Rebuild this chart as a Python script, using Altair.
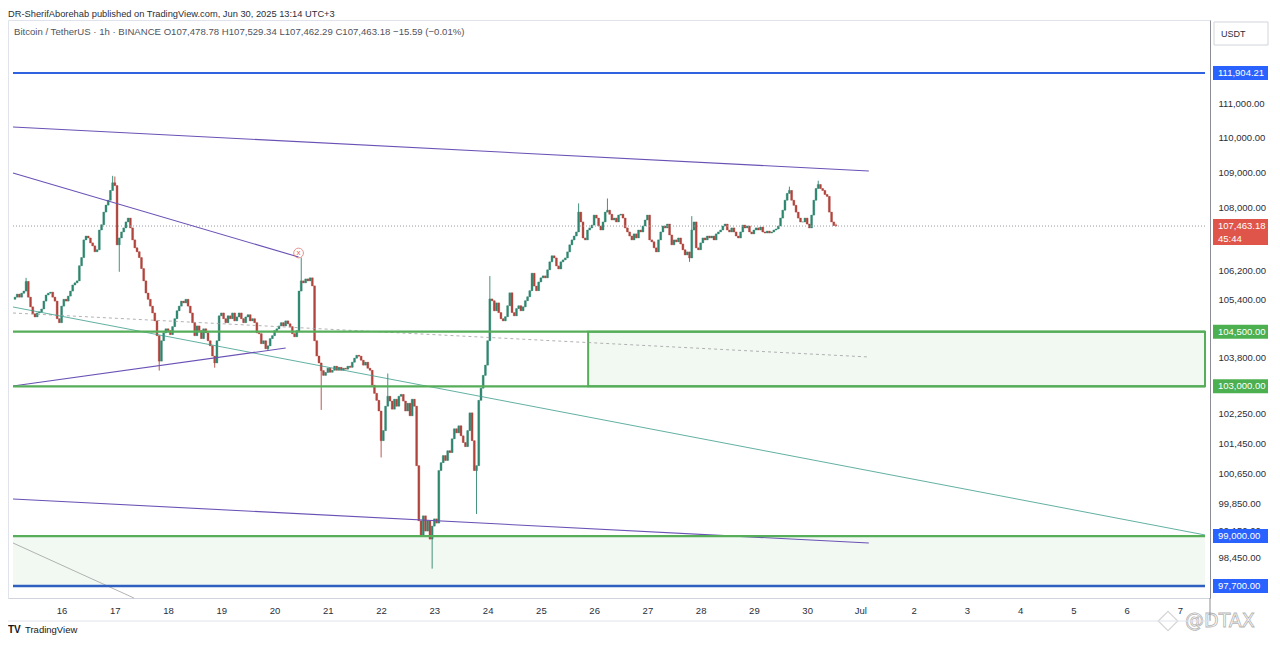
import altair as alt
import pandas as pd

# ---------------- data ----------------
# t = hours since 2025-06-15 00:00 ; one candle per hour (1h chart)
FIRST_T = 3
FIRST_OPEN = 105400

closes_jun15 = [105460, 105545, 105460, 105570, 105630, 105900, 105460, 105190, 104995, 104910, 105020,
                105050, 105130, 105350, 105520, 105570, 105600, 105460, 105350, 104860, 104750]
closes_jun16 = [105210, 105400, 105350, 105490, 105630, 105800, 105860, 105915, 106340, 106570, 107070, 107180,
                107125, 106985, 106900, 106735, 106790, 107350, 107500, 107860, 108060, 108200, 108480, 108700]
closes_jun17 = [108620, 106930, 107125, 107295, 107410, 107580, 107690, 107410, 107070, 106845, 106735, 106570,
                106260, 105915, 105575, 105400, 105210, 105020, 104800, 104390, 103690, 104250, 104470, 104580]
closes_jun18 = [104530, 104420, 104640, 104860, 105080, 105210, 105350, 105300, 105400, 105210, 105020, 104750,
                104390, 104660, 104530, 104310, 104580, 104470, 104250, 104110, 103830, 103640, 104250, 104940]
closes_jun19 = [105020, 104860, 104750, 104940, 104860, 105020, 104800, 104910, 105020, 104860, 104750, 104910,
                104970, 104800, 104860, 104750, 104470, 104445, 104170, 104250, 104030, 104110, 104310, 104390]
closes_jun20 = [104530, 104580, 104660, 104750, 104660, 104800, 104720, 104640, 104445, 104360, 104530, 105630,
                105915, 105860, 105970, 105915, 106000, 105775, 104250, 103830, 103640, 103430, 103300, 103380]
closes_jun21 = [103495, 103385, 103440, 103550, 103440, 103520, 103440, 103495, 103470, 103550, 103520, 103660,
                103770, 103850, 103825, 103715, 103580, 103660, 103495, 103440, 103030, 102810, 102620]
closes_jun22 = [102330, 101530, 101800, 102460, 102730, 102600, 102380, 102650, 102460, 102730, 102780, 102600,
                102330, 102540, 102200, 102650, 102460, 100860, 99400, 99000, 99530, 99130, 99400, 98920]
closes_jun23 = [99260, 99450, 99340, 100730, 100940, 101130, 101000, 101260, 101210, 101580, 101850, 101740,
                101930, 101660, 101480, 101370, 101800, 102280, 101530, 100730, 100860, 102620, 102950, 103300]
closes_jun24 = [103580, 104250, 105410, 105360, 105080, 105300, 105030, 104860, 104800, 104915, 105220, 105580,
                105030, 104940, 105140, 105220, 105080, 105190, 105360, 105470, 105640, 106130, 105770, 105640]
closes_jun25 = [105885, 106000, 106055, 106000, 106225, 106450, 106620, 106560, 106335, 106250, 106450, 106505,
                106560, 106730, 106930, 107070, 107180, 107295, 107860, 107580, 107125, 107070, 107350, 107410]
closes_jun26 = [107490, 107775, 107690, 107465, 107350, 107580, 107860, 107915, 107800, 107635, 107690, 107580,
                107775, 107800, 107690, 107410, 107295, 107180, 107070, 107240, 107125, 107350, 107295, 107465]
closes_jun27 = [107635, 107775, 107070, 107015, 106845, 106730, 107070, 107295, 107465, 107410, 107520, 107210,
                106930, 107070, 107015, 107125, 106955, 106790, 106645, 106730, 106560, 107350, 107580, 106845]
closes_jun28 = [106790, 106985, 107125, 107070, 107180, 107125, 107180, 107070, 107240, 107295, 107350, 107465,
                107520, 107350, 107295, 107410, 107295, 107180, 107125, 107295, 107490, 107410, 107465]
closes_jun29 = [107295, 107240, 107350, 107410, 107350, 107435, 107295, 107265, 107320, 107265, 107295, 107350,
                107380, 107465, 107690, 107915, 108200, 108395, 108480, 108200, 108055, 107860, 107690, 107580]
closes_jun30 = [107580, 107690, 107520, 107410, 107775, 108200, 108535, 108650, 108535, 108480, 108365, 108310,
                107860, 107580, 107478.78, 107463.18]

# notable wicks (t -> price)
wick_high = {8: 106000, 47: 108900, 48: 108880, 132: 106570, 171: 103350, 217: 106050, 257: 108110,
             270: 108250, 308: 107745, 352: 108590, 365: 108760, 373: 107529.34}
wick_low = {50: 106170, 68: 103430, 93: 103510, 117: 103970, 141: 102360, 168: 101080, 191: 98150,
            211: 99580, 307: 106450, 373: 107462.29}

# horizontal levels
level_blue_top = 111904.21
level_green = [104500, 103000]
level_99000 = 99000
level_97700 = 97700
last_price = 107463.18

# zones
zone_upper = dict(t0=261.3, t1=539.3, p0=103000, p1=104500)
zone_lower = dict(t0=2.1, t1=539.3, p0=97700, p1=99000)

# trend lines (t0, p0, t1, p1)
purple_lines = [(2.1, 110316, 387.8, 109040), (2.1, 108981, 130.8, 106586),
                (2.1, 103010, 125.0, 104050), (2.1, 99975, 387.8, 98818)]
teal_line = [(2.1, 105186, 539.3, 99028)]
gray_dashed = [(2.1, 105019, 387.8, 103803)]
gray_thin = [(2.1, 98818, 56.6, 97390)]
marker_point = (130.8, 106699)

y_ticks = [111000, 110000, 109000, 108000, 106200, 105400, 103800,
           102250, 101450, 100650, 99850, 99150, 98450]
x_ticks = [24 * k for k in range(1, 23)]

price_tags = [(111904.21, "111,904.21", "#2962ff"), (104500, "104,500.00", "#4caf50"),
              (103000, "103,000.00", "#4caf50"), (99000, "99,000.00", "#2962ff"),
              (97700, "97,700.00", "#2962ff")]

header1 = "DR-SherifAborehab published on TradingView.com, Jun 30, 2025 13:14 UTC+3"
header2 = ("Bitcoin / TetherUS · 1h · BINANCE  O107,478.78  H107,529.34  L107,462.29  "
           "C107,463.18  −15.59 (−0.01%)")

# ---------------- build ----------------
T_LEFT, T_RIGHT = 2.1, 539.3
P_BOTTOM, P_TOP = 97390, 113485
FONT = "Liberation Sans"
UP, DOWN = "#2f8670", "#b0453d"
GREEN, BLUE, PURPLE = "#56ad5a", "#2f62e0", "#6a51b5"

all_closes = (closes_jun15 + closes_jun16 + closes_jun17 + closes_jun18 + closes_jun19 + closes_jun20 +
              closes_jun21 + closes_jun22 + closes_jun23 + closes_jun24 + closes_jun25 + closes_jun26 +
              closes_jun27 + closes_jun28 + closes_jun29 + closes_jun30)
rows = []
prev = FIRST_OPEN
for i, c in enumerate(all_closes):
    t = FIRST_T + i
    o = prev
    hi = max(o, c, wick_high.get(t, 0))
    lo = min(o, c, wick_low.get(t, 1e9))
    rows.append(dict(t=t, open=o, close=c, high=hi, low=lo))
    prev = c
candles = pd.DataFrame(rows)

xs = alt.Scale(domain=[T_LEFT, T_RIGHT], nice=False, zero=False)
ys = alt.Scale(type="log", domain=[P_BOTTOM, P_TOP], nice=False)

x_axis = alt.Axis(values=x_ticks, title=None, grid=False, tickSize=0, labelPadding=7,
                  labelFont=FONT, labelFontSize=9.5, labelColor="#2a2e39", domainColor="#d1d4dc",
                  labelFlush=False, labelOverlap=False,
                  labelExpr="datum.value/24 + 15 <= 30 ? toString(datum.value/24 + 15) : "
                            "(datum.value/24 - 15 == 1 ? 'Jul' : toString(datum.value/24 - 15))")
y_axis = alt.Axis(orient="right", values=y_ticks, format=",.2f", title=None, grid=False, tickSize=0,
                  labelPadding=8, labelFont=FONT, labelFontSize=9.5, labelColor="#2a2e39",
                  domainColor="#8a8d96", labelOverlap=False, labelFlush=False, labelBound=False)


def X(f="t0"):
    return alt.X(f"{f}:Q", scale=xs, axis=x_axis)


def Y(f="p0"):
    return alt.Y(f"{f}:Q", scale=ys, axis=y_axis)


cond_color = alt.condition("datum.close >= datum.open", alt.value(UP), alt.value(DOWN))

wicks = alt.Chart(candles).mark_rule(strokeWidth=0.9).encode(
    x=X("t"), y=Y("low"), y2="high:Q", color=cond_color)
bodies = alt.Chart(candles).mark_bar(size=1.9, strokeWidth=0.4).encode(
    x=X("t"), y=Y("open"), y2="close:Q", color=cond_color, stroke=cond_color)

zone_low_layer = alt.Chart(pd.DataFrame([zone_lower])).mark_rect(
    fill="#4caf50", fillOpacity=0.07).encode(x=X("t0"), x2="t1:Q", y=Y("p0"), y2="p1:Q")
zone_up_layer = alt.Chart(pd.DataFrame([zone_upper])).mark_rect(
    fill="#4caf50", fillOpacity=0.07, stroke=GREEN, strokeWidth=2).encode(
    x=X("t0"), x2="t1:Q", y=Y("p0"), y2="p1:Q")

price_line = alt.Chart(pd.DataFrame([dict(t0=T_LEFT, t1=T_RIGHT, p0=last_price)])).mark_rule(
    color="#9598a1", strokeDash=[1, 2], strokeWidth=1).encode(x=X("t0"), x2="t1:Q", y=Y("p0"))


def seg_layer(lst, **kw):
    df = pd.DataFrame(lst, columns=["t0", "p0", "t1", "p1"])
    return alt.Chart(df).mark_rule(**kw).encode(x=X("t0"), x2="t1:Q", y=Y("p0"), y2="p1:Q")


purple = seg_layer(purple_lines, color=PURPLE, strokeWidth=1.1)
teal = seg_layer(teal_line, color="#3a9c8c", strokeWidth=0.8)
gdash = seg_layer(gray_dashed, color="#9e9e9e", strokeWidth=0.8, strokeDash=[3, 3])
gthin = seg_layer(gray_thin, color="#a0a0a0", strokeWidth=0.8)


def hline(prices, color, width):
    df = pd.DataFrame({"p0": prices, "t0": T_LEFT, "t1": T_RIGHT})
    return alt.Chart(df).mark_rule(color=color, strokeWidth=width).encode(x=X("t0"), x2="t1:Q", y=Y("p0"))


lines_green = hline(level_green + [level_99000], GREEN, 2.2)
line_blue_top = hline([level_blue_top], BLUE, 2)
line_blue_bot = hline([level_97700], "#2f5fbf", 2.6)

mk = pd.DataFrame([dict(t0=marker_point[0], p0=marker_point[1], s="x")])
marker = alt.Chart(mk).mark_point(shape="circle", size=95, filled=False, color="#e0665c",
                                  strokeWidth=1).encode(x=X("t0"), y=Y("p0"))
marker_txt = alt.Chart(mk).mark_text(color="#e0665c", fontSize=8, font=FONT, baseline="middle",
                                     dy=-0.5).encode(x=X("t0"), y=Y("p0"), text="s:N")

# right-side price tags
RECT = "M-1,-0.2545H1V0.2545H-1Z"
RECT_TALL = "M-1,-0.2545H1V0.69H-1Z"
tags = pd.DataFrame(price_tags, columns=["p0", "label", "bg"])
tag_boxes = alt.Chart(tags).mark_point(shape=RECT, filled=True, size=55 ** 2, opacity=1).encode(
    x=alt.value(1232.5), y=Y("p0"), color=alt.Color("bg:N", scale=None))
tag_text = alt.Chart(tags).mark_text(align="left", baseline="middle", font=FONT, fontSize=9.5,
                                     color="white").encode(x=alt.value(1210), y=Y("p0"), text="label:N")
last_df = pd.DataFrame([dict(p0=last_price, label="107,463.18", cd="45:44")])
last_box = alt.Chart(last_df).mark_point(shape=RECT_TALL, filled=True, size=55 ** 2, opacity=1,
                                         color="#e0554a").encode(x=alt.value(1232.5), y=Y("p0"))
last_txt = alt.Chart(last_df).mark_text(align="left", baseline="middle", font=FONT, fontSize=9.5,
                                        color="white").encode(x=alt.value(1210), y=Y("p0"), text="label:N")
last_cd = alt.Chart(last_df).mark_text(align="left", baseline="middle", font=FONT, fontSize=9.5,
                                       color="white", dy=13).encode(x=alt.value(1210), y=Y("p0"), text="cd:N")

one = pd.DataFrame({"a": [0]})
usdt_box = alt.Chart(one).mark_point(shape="M-1,-0.426H1V0.426H-1Z", filled=True, fill="white",
                                     stroke="#d1d4dc", strokeWidth=1, size=54 ** 2, opacity=1).encode(
    x=alt.value(1233), y=alt.value(13.5))
usdt_txt = alt.Chart(one).mark_text(text="USDT", align="left", baseline="middle", font=FONT, fontSize=9,
                                    color="#2a2e39").encode(x=alt.value(1213), y=alt.value(14))
h1 = alt.Chart(one).mark_text(text=header1, align="left", baseline="middle", font=FONT, fontSize=9.3,
                              color="#2a2e39").encode(x=alt.value(0), y=alt.value(-6.5))
h2 = alt.Chart(one).mark_text(text=header2, align="left", baseline="middle", font=FONT, fontSize=9.6,
                              color="#50535e").encode(x=alt.value(6), y=alt.value(12))
tv_logo = alt.Chart(one).mark_text(text="TV", align="left", baseline="middle", font=FONT, fontSize=10,
                                   fontWeight="bold", color="#131722").encode(x=alt.value(0), y=alt.value(610))
tv_txt = alt.Chart(one).mark_text(text="TradingView", align="left", baseline="middle", font=FONT,
                                  fontSize=9.5, color="#131722").encode(x=alt.value(17), y=alt.value(610))
wm_logo = alt.Chart(one).mark_point(shape="diamond", size=380, filled=False, color="#c4c4c4",
                                    strokeWidth=1.2).encode(x=alt.value(1160), y=alt.value(601))
wm_txt = alt.Chart(one).mark_text(text="@DTAX", align="left", baseline="middle", font="DejaVu Sans",
                                  fontSize=19, fill="white", stroke="#b5b5b5", strokeWidth=0.8).encode(
    x=alt.value(1177), y=alt.value(601))
axis_ext = alt.Chart(one).mark_rule(color="#8a8d96", strokeWidth=1).encode(
    x=alt.value(1202), y=alt.value(578), y2=alt.value(601))
bottom_border = alt.Chart(one).mark_rule(color="#e0e3eb", strokeWidth=1).encode(
    x=alt.value(0), x2=alt.value(1202), y=alt.value(601))

chart = alt.layer(
    wicks, bodies, zone_low_layer, zone_up_layer, price_line, gthin, gdash, teal, purple,
    lines_green, line_blue_top, line_blue_bot, marker, marker_txt,
    tag_boxes, tag_text, last_box, last_txt, last_cd, usdt_box, usdt_txt,
    h1, h2, tv_logo, tv_txt, wm_logo, wm_txt, axis_ext, bottom_border,
).properties(
    width=1202, height=578,
    padding={"left": 0, "top": 12, "right": 62, "bottom": 37},
    autosize=alt.AutoSizeParams(type="none"),
    background="white",
).configure_view(stroke="#e0e3eb", strokeWidth=1)

chart.save("out.html", embed_options={"renderer": "svg", "actions": False})
